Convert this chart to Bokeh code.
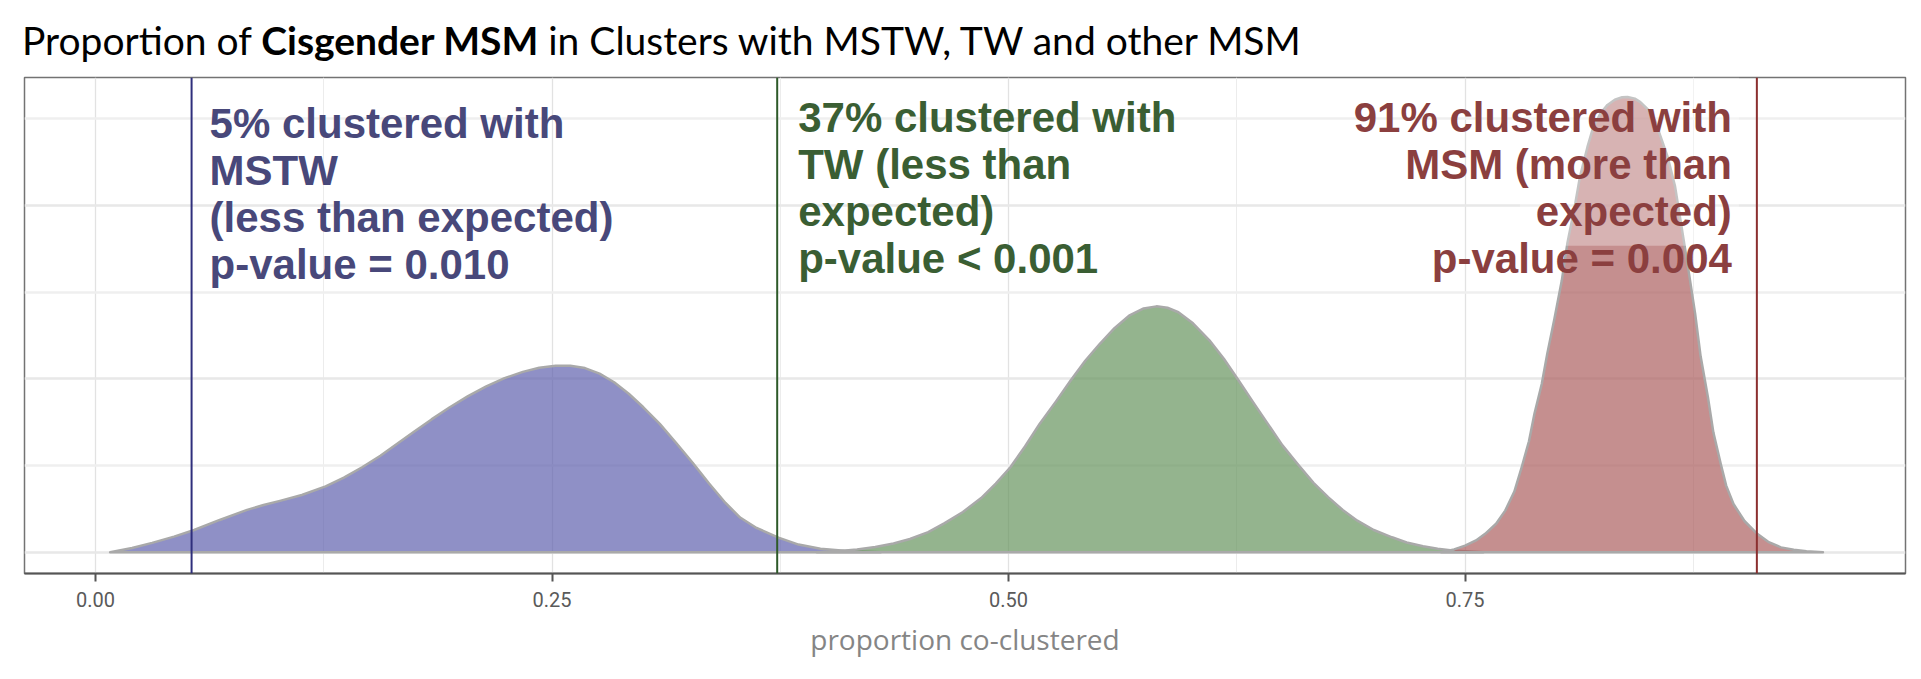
from bokeh.plotting import figure
from bokeh.models import Range1d, FixedTicker, NumeralTickFormatter, Span, Div
from bokeh.layouts import column
from bokeh.core.properties import value
from bokeh.embed import file_html
from bokeh.resources import INLINE

# ---------------- data ----------------
title_part1 = "Proportion of "
title_bold = "Cisgender MSM"
title_part2 = " in Clusters with MSTW, TW and other MSM"
x_axis_title = "proportion co-clustered"

groups = ["MSTW", "TW", "MSM"]
observed = [0.0526, 0.3733, 0.9098]   # observed proportion (vertical lines)

# density of proportion co-clustered under permutation
mstw_x = [0.008, 0.020, 0.031, 0.043, 0.054, 0.068, 0.083, 0.092, 0.101, 0.113,
          0.126, 0.136, 0.146, 0.156, 0.165, 0.174, 0.184, 0.194, 0.204, 0.214,
          0.224, 0.234, 0.243, 0.252, 0.260, 0.268, 0.276, 0.284, 0.292, 0.300,
          0.309, 0.318, 0.327, 0.336, 0.345, 0.353, 0.362, 0.374, 0.385, 0.397,
          0.410, 0.430]
mstw_d = [0.0, 0.12, 0.27, 0.45, 0.64, 0.93, 1.22, 1.36, 1.48, 1.65,
          1.90, 2.15, 2.45, 2.78, 3.12, 3.46, 3.83, 4.18, 4.50, 4.78,
          5.02, 5.20, 5.32, 5.38, 5.38, 5.31, 5.15, 4.90, 4.57, 4.18,
          3.70, 3.15, 2.58, 1.98, 1.42, 1.00, 0.70, 0.42, 0.22, 0.10,
          0.04, 0.0]

tw_x = [0.395, 0.406, 0.417, 0.427, 0.437, 0.446, 0.456, 0.465, 0.475, 0.485,
        0.493, 0.501, 0.509, 0.517, 0.526, 0.534, 0.542, 0.550, 0.558, 0.566,
        0.574, 0.581, 0.587, 0.593, 0.601, 0.610, 0.618, 0.626, 0.634, 0.642,
        0.650, 0.659, 0.667, 0.675, 0.683, 0.691, 0.700, 0.710, 0.718, 0.727,
        0.735, 0.743, 0.760]
tw_d = [0.0, 0.03, 0.08, 0.15, 0.25, 0.38, 0.58, 0.84, 1.16, 1.56,
        1.98, 2.45, 3.05, 3.70, 4.35, 4.95, 5.52, 6.01, 6.46, 6.82,
        7.03, 7.09, 7.05, 6.92, 6.60, 6.11, 5.57, 4.95, 4.32, 3.70,
        3.08, 2.50, 2.00, 1.59, 1.22, 0.91, 0.64, 0.43, 0.28, 0.17,
        0.10, 0.05, 0.0]

msm_x = [0.737, 0.744, 0.750, 0.756, 0.761, 0.767, 0.772, 0.777, 0.781, 0.785,
         0.788, 0.792, 0.795, 0.799, 0.803, 0.806, 0.810, 0.813, 0.817, 0.820,
         0.824, 0.828, 0.832, 0.836, 0.839, 0.843, 0.846, 0.850, 0.854, 0.857,
         0.861, 0.865, 0.868, 0.872, 0.876, 0.879, 0.883, 0.886, 0.890, 0.893,
         0.897, 0.903, 0.910, 0.916, 0.923, 0.930, 0.937, 0.946]
msm_d = [0.0, 0.08, 0.19, 0.34, 0.53, 0.82, 1.20, 1.75, 2.45, 3.20,
         3.99, 4.85, 5.72, 6.75, 7.84, 8.90, 9.95, 10.85, 11.68, 12.22,
         12.64, 12.90, 13.05, 13.12, 13.13, 13.08, 12.98, 12.78, 12.45, 12.00,
         11.39, 10.55, 9.57, 8.25, 6.88, 5.65, 4.47, 3.45, 2.55, 1.92,
         1.39, 0.90, 0.53, 0.30, 0.14, 0.07, 0.03, 0.0]

annotation_texts = [
    "5% clustered with\nMSTW\n(less than expected)\np-value = 0.010",
    "37% clustered with\nTW (less than\nexpected)\np-value < 0.001",
    "91% clustered with\nMSM (more than\nexpected)\np-value = 0.004",
]

x_ticks = [0.0, 0.25, 0.50, 0.75]
x_minor = [0.125, 0.375, 0.625, 0.875]
y_major = [0.0, 5.0, 10.0]
y_minor = [2.5, 7.5, 12.5]

# ---------------- styles ----------------
fill_colors = ["#5f61ae", "#66945e", "#ac5f5f"]
vline_colors = ["#2f2f7c", "#2e5a29", "#8b2f2f"]
text_colors = ["#48487a", "#3a5e33", "#8b3f3f"]
text_align = ["left", "left", "right"]
text_xoff = [18, 21, -25]
text_yoff = [22, 16, 16]

x_lo, x_hi = -0.0389, 0.9912
y_lo, y_hi = -0.614, 13.69

title_div = Div(
    text=('<div style="font-family:Lato;font-size:39px;line-height:1;'
          'padding:21px 0 0 22px;color:#000;white-space:nowrap">'
          f'{title_part1}<b>{title_bold}</b>{title_part2}</div>'),
    width=1921, height=76, margin=(0, 0, 0, 0))

p = figure(width=1921, height=603, x_range=Range1d(x_lo, x_hi), y_range=Range1d(y_lo, y_hi),
           output_backend="svg", toolbar_location=None, y_axis_location=None,
           title=None, min_border_left=24, min_border_right=16,
           min_border_top=1, min_border_bottom=106)
p.background_fill_color = "white"
p.border_fill_color = "white"
p.outline_line_color = "#737373"
p.outline_line_width = 1.5

# grid
p.xgrid.ticker = FixedTicker(ticks=x_ticks, minor_ticks=x_minor)
p.xgrid.grid_line_color = "#e2e2e2"
p.xgrid.grid_line_width = 1.3
p.xgrid.minor_grid_line_color = "#ececec"
p.xgrid.minor_grid_line_width = 1.0
p.ygrid.ticker = FixedTicker(ticks=y_major, minor_ticks=y_minor)
p.ygrid.grid_line_color = "#e8e8e8"
p.ygrid.grid_line_width = 2.5
p.ygrid.minor_grid_line_color = "#efefef"
p.ygrid.minor_grid_line_width = 2.5

# axis
ax = p.xaxis[0]
ax.ticker = FixedTicker(ticks=x_ticks)
ax.formatter = NumeralTickFormatter(format="0.00")
ax.axis_line_color = "#555555"
ax.axis_line_width = 2
ax.major_tick_line_color = "#555555"
ax.major_tick_line_width = 2
ax.major_tick_out = 8
ax.major_tick_in = 0
ax.minor_tick_line_color = None
ax.major_label_text_font = "Roboto"
ax.major_label_text_font_size = "20px"
ax.major_label_text_color = "#5a5a5a"
ax.major_label_standoff = 10
ax.axis_label = x_axis_title
ax.axis_label_text_font = "Open Sans"
ax.axis_label_text_font_size = "28px"
ax.axis_label_text_font_style = "normal"
ax.axis_label_text_color = "#858585"
ax.axis_label_standoff = 10

# densities
for xs, ds, fc in [(mstw_x, mstw_d, fill_colors[0]),
                   (tw_x, tw_d, fill_colors[1]),
                   (msm_x, msm_d, fill_colors[2])]:
    p.patch(x=xs, y=ds, fill_color=fc, fill_alpha=0.7,
            line_color="#a9a9a9", line_width=2.5, line_join="round")

# translucent white text box behind the MSM annotation (drawn under the text)
p.quad(left=[0.78], right=[0.90], top=[y_hi], bottom=[8.84],
       fill_color="white", fill_alpha=0.32, line_color=None)

# observed values
for v, c in zip(observed, vline_colors):
    p.add_layout(Span(location=v, dimension="height", line_color=c, line_width=2))

# annotations
for i in range(3):
    p.text(x=[observed[i]], y=[y_hi], text=[annotation_texts[i]],
           text_font=value("Liberation Sans"), text_font_style="bold",
           text_font_size=value("42px"), text_color=text_colors[i],
           text_align=text_align[i], text_baseline="top",
           text_line_height=1.0, x_offset=text_xoff[i], y_offset=text_yoff[i])

layout = column(title_div, p, spacing=0)
open("out.html", "w").write(file_html(layout, INLINE))
